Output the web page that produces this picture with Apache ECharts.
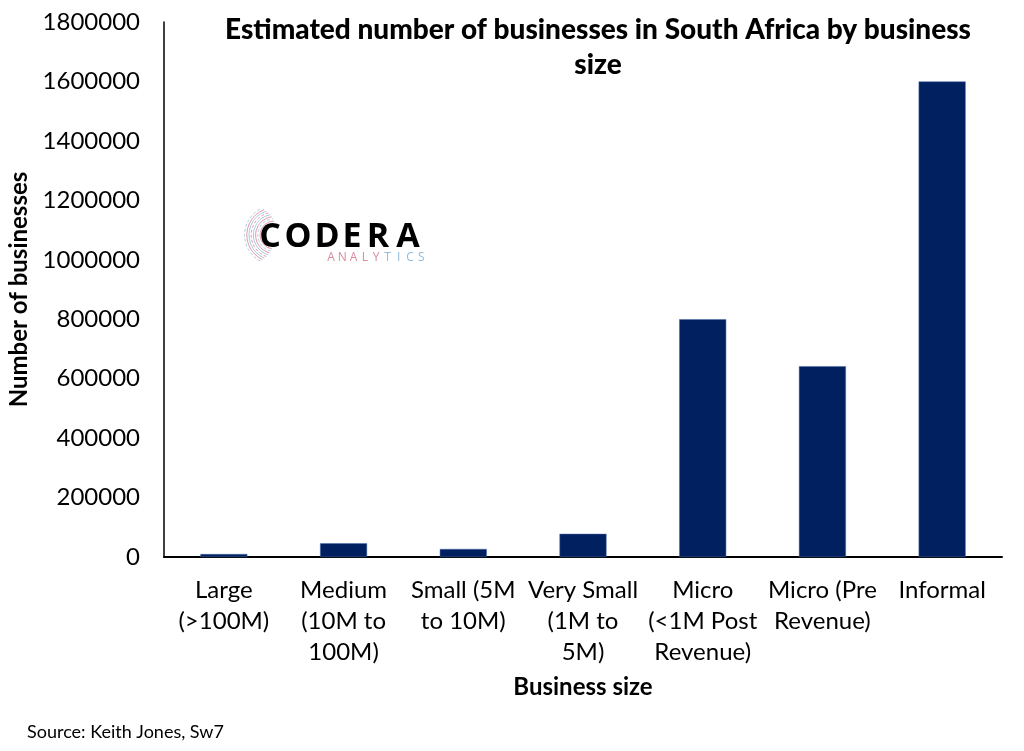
<!DOCTYPE html>
<html>
<head>
<meta charset="utf-8">
<script src="https://cdn.jsdelivr.net/npm/echarts@6/dist/echarts.min.js"></script>
<style>
  html, body { margin: 0; padding: 0; background: #fff; }
  #chart { width: 1024px; height: 751px; }
</style>
</head>
<body>
<div id="chart"></div>
<script>
  // data
  const categories = [
    'Large\n(>100M)',
    'Medium\n(10M to\n100M)',
    'Small (5M\nto 10M)',
    'Very Small\n(1M to\n5M)',
    'Micro\n(<1M Post\nRevenue)',
    'Micro (Pre\nRevenue)',
    'Informal'
  ];
  const businesses = [10000, 46000, 27000, 78000, 800000, 642000, 1600000];
  const yTicks = { min: 0, max: 1800000, interval: 200000 };

  const chart = echarts.init(document.getElementById('chart'));

  // logo: swirl of arcs + spaced letters
  const logo = [];
  const cx = 274, cy = 235;
  for (let i = 0; i < 8; i++) {
    const r = 14 + i * 2.2;
    logo.push({
      type: 'arc',
      shape: { cx: cx, cy: cy, r: r, startAngle: Math.PI * (0.55 + i * 0.015), endAngle: Math.PI * (1.5 - i * 0.02), clockwise: true },
      style: { stroke: i % 2 ? '#a9cce3' : '#e49aa9', lineWidth: 1, fill: null, lineDash: i % 3 === 1 ? [3, 2] : null },
      silent: true
    });
  }
  const codera = ['C', 'O', 'D', 'E', 'R', 'A'];
  const coderaX = [270, 298, 327, 352, 378, 408];
  codera.forEach((ch, i) => logo.push({
    type: 'text', x: coderaX[i], y: 237, silent: true,
    style: { text: ch, font: 'bold 34px "Open Sans"', fill: '#000', align: 'center', verticalAlign: 'middle' }
  }));
  const analytics = 'ANALYTICS'.split('');
  analytics.forEach((ch, i) => logo.push({
    type: 'text', x: 331 + i * 11.3, y: 258, silent: true,
    style: { text: ch, font: '12px "Open Sans"', fill: i < 5 ? '#d98b9c' : '#8fbcdc', align: 'center', verticalAlign: 'middle' }
  }));

  const option = {
    backgroundColor: '#fff',
    textStyle: { fontFamily: 'Lato' },
    title: {
      text: 'Estimated number of businesses in South Africa by business\nsize',
      left: 593,
      top: 7,
      textAlign: 'center',
      textStyle: { fontFamily: 'Lato', fontWeight: 900, fontSize: 28, color: '#000', lineHeight: 35 }
    },
    grid: { left: 164, right: 22, top: 22, bottom: 194, outerBoundsMode: 'none' },
    xAxis: {
      type: 'category',
      data: categories,
      name: 'Business size',
      nameLocation: 'middle',
      nameGap: 118,
      nameTextStyle: { fontFamily: 'Lato', fontWeight: 'bold', fontSize: 24, color: '#000' },
      axisLine: { lineStyle: { color: '#000', width: 2 } },
      axisTick: { show: false },
      axisLabel: { interval: 0, margin: 18, fontFamily: 'Lato', fontSize: 24, lineHeight: 31, color: '#000', align: 'center' }
    },
    yAxis: {
      type: 'value',
      min: yTicks.min,
      max: yTicks.max,
      interval: yTicks.interval,
      name: 'Number of businesses',
      nameLocation: 'middle',
      nameGap: 132,
      nameTextStyle: { fontFamily: 'Lato', fontWeight: 'bold', fontSize: 24, color: '#000' },
      axisLine: { show: true, lineStyle: { color: '#000', width: 1.5 } },
      axisTick: { show: false },
      splitLine: { show: false },
      axisLabel: { margin: 24, fontFamily: 'Lato', fontSize: 24, color: '#000', formatter: v => String(v) }
    },
    series: [{
      type: 'bar',
      data: businesses,
      barWidth: 47,
      itemStyle: { color: '#012060', borderColor: '#4a6aa8', borderWidth: 0.5 }
    }],
    graphic: logo.concat([
      {
        type: 'text', left: 27, top: 723, silent: true,
        style: { text: 'Source: Keith Jones, Sw7', font: '18px Lato', fill: '#000' }
      }
    ])
  };

  chart.setOption(option);
</script>
</body>
</html>
